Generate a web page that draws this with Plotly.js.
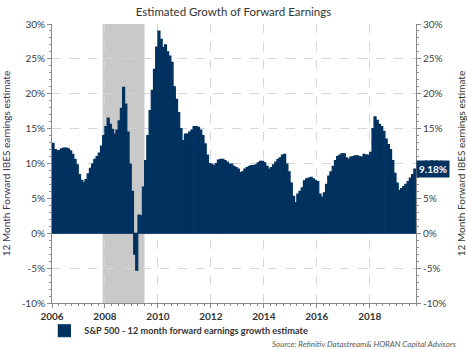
<!DOCTYPE html>
<html><head><meta charset="utf-8">
<script src="https://cdn.plot.ly/plotly-3.0.1.min.js"></script>
<style>body{margin:0;background:#fff}</style>
</head><body>
<div id="chart" style="width:467px;height:350px"></div>
<script>
// Monthly 12-month forward earnings growth estimate (%)
const years = [2006,2007,2008,2009,2010,2011,2012,2013,2014,2015,2016,2017,2018,2019];
const g2006 = [12.9,12.0,11.8,11.9,12.1,12.2,12.2,12.1,11.8,11.3,10.6,9.8];
const g2007 = [8.4,7.6,7.3,7.7,8.5,9.3,9.9,10.6,11.0,11.5,12.5,14.0];
const g2008 = [15.3,16.5,15.6,14.9,14.2,14.8,16.1,17.9,20.9,18.5,14.5,9.9];
const g2009 = [6.0,-3.0,-5.3,2.6,2.5,6.6,10.4,14.0,17.6,20.5,23.5,26.7];
const g2010 = [29.0,27.8,26.6,27.0,26.0,25.4,24.5,21.0,19.2,17.3,15.0,13.3];
const g2011 = [14.2,14.2,14.5,14.8,15.3,15.3,15.2,14.8,14.0,12.8,11.2,10.0];
const g2012 = [9.9,9.7,10.0,10.5,10.6,10.6,10.4,10.2,9.9,9.9,9.6,9.4];
const g2013 = [9.2,8.7,8.8,9.2,9.4,9.6,9.7,9.7,9.8,10.1,10.3,10.3];
const g2014 = [10.1,9.6,9.2,9.4,9.8,10.2,10.6,10.8,11.2,11.3,9.9,8.8];
const g2015 = [7.2,5.3,4.4,5.6,6.0,6.5,7.5,7.8,7.9,8.0,7.8,7.6];
const g2016 = [7.4,5.6,5.2,5.8,7.0,8.2,8.8,9.6,10.4,11.0,11.2,11.4];
const g2017 = [11.4,10.8,10.6,10.9,11.0,11.1,11.1,11.0,10.9,11.3,11.2,11.2];
const g2018 = [11.6,15.0,16.7,16.2,15.6,15.3,14.6,13.5,12.7,12.0,10.4,8.6];
const g2019 = [7.2,6.1,6.4,6.7,7.0,7.4,7.9,8.4,9.18];
const series = [g2006,g2007,g2008,g2009,g2010,g2011,g2012,g2013,g2014,g2015,g2016,g2017,g2018,g2019];
const latestLabel = "9.18%";
const recessionStart = "2007-12-01", recessionEnd = "2009-06-30";
const yTickVals = [-10,-5,0,5,10,15,20,25,30];
const yTickText = ["-10%","-5%","0%","5%","10%","15%","20%","25%","30%"];

const xs = [], ys = [];
series.forEach((arr, i) => {
  arr.forEach((v, m) => {
    xs.push(years[i] + "-" + String(m + 1).padStart(2, "0") + "-15");
    ys.push(v);
  });
});
const lastVal = ys[ys.length - 1];

const navy = "#00325f";
const font = "Lato, 'Noto Sans', sans-serif";
const gridColor = "#d6d6d6";
const axisColor = "#8a8a8a";

const trace = {
  type: "bar", x: xs, y: ys, name: "S&P 500 - 12 month forward earnings growth estimate",
  marker: {color: navy, line: {color: navy, width: 1.2}},
  hoverinfo: "x+y"
};
const ghost = {type: "scatter", x: [xs[0]], y: [0], yaxis: "y2", showlegend: false, hoverinfo: "skip", mode: "none"};

const yCommon = {
  range: [-10, 30], tickvals: yTickVals, ticktext: yTickText,
  ticks: "outside", ticklen: 4, tickcolor: axisColor, showline: true, linecolor: axisColor, linewidth: 1,
  tickfont: {family: font, size: 10, color: "#404040"},
  minor: {dtick: 1, ticks: "outside", ticklen: 2, tickcolor: axisColor, showgrid: false},
  zeroline: false, fixedrange: true, automargin: false
};

const layout = {
  width: 467, height: 350,
  margin: {l: 52, r: 51, t: 24, b: 47},
  paper_bgcolor: "#fff", plot_bgcolor: "#fff",
  title: {text: "Estimated Growth of Forward Earnings", font: {family: font, size: 11.5, color: "#333333"}, x: 0.5, xanchor: "center", y: 0.967, yanchor: "middle", automargin: false},
  bargap: 0,
  showlegend: true,
  legend: {orientation: "h", xref: "container", yref: "container", x: 0.095, xanchor: "left", y: 0.055, yanchor: "middle",
           font: {family: font, size: 9.2, color: "#333", weight: "bold"}, bgcolor: "rgba(0,0,0,0)", itemwidth: 30},
  xaxis: {
    type: "date", range: ["2006-01-01", "2019-10-01"],
    tickvals: ["2006-01-01","2008-01-01","2010-01-01","2012-01-01","2014-01-01","2016-01-01","2018-01-01"],
    ticktext: ["2006","2008","2010","2012","2014","2016","2018"],
    ticks: "outside", ticklen: 4, tickcolor: axisColor, showline: true, linecolor: axisColor,
    tickfont: {family: font, size: 10, color: "#333", weight: "bold"},
    showgrid: true, gridcolor: gridColor, griddash: "dash", gridwidth: 1,
    minor: {dtick: "M3", ticks: "outside", ticklen: 2, tickcolor: axisColor, showgrid: false},
    fixedrange: true, automargin: false
  },
  yaxis: Object.assign({}, yCommon, {
    side: "left", showgrid: true, gridcolor: gridColor, griddash: "dash",
    title: {text: "12 Month Forward IBES earnings estimate", font: {family: font, size: 10, color: "#403152"}, standoff: 14}
  }),
  yaxis2: Object.assign({}, yCommon, {
    side: "right", overlaying: "y", showgrid: false,
    title: {text: "12 Month Forward IBES earnings estimate", font: {family: font, size: 10, color: "#2b3a2b"}, standoff: 12}
  }),
  shapes: [{
    type: "rect", xref: "x", yref: "paper", x0: recessionStart, x1: recessionEnd, y0: 0, y1: 1,
    fillcolor: "#c9c9c9", line: {width: 0}, layer: "below"
  }],
  annotations: [
    {xref: "paper", yref: "y", x: 1.0, y: lastVal, xanchor: "left", yanchor: "middle", text: "<b>" + latestLabel + "</b>",
     showarrow: false, bgcolor: navy, font: {family: font, size: 10, color: "#fff"}, borderpad: 2},
    {xref: "paper", yref: "paper", x: 1.118, y: -0.147, xanchor: "right", yanchor: "middle",
     text: "<i>Source: Refinitiv Datastream& HORAN Capital Advisors</i>", showarrow: false,
     font: {family: font, size: 8, color: "#595959"}}
  ]
};

Plotly.newPlot("chart", [trace, ghost], layout, {displayModeBar: false, staticPlot: true});
</script>
</body></html>
